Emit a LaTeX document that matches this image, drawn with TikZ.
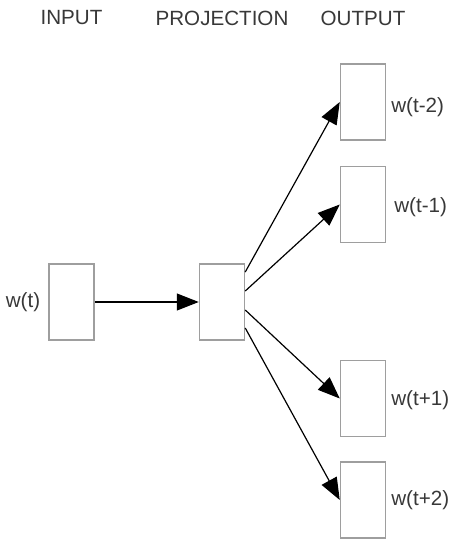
\documentclass[tikz,border=0pt]{standalone}
\usepackage{fontspec}
\setmainfont{Liberation Sans}
\usepackage{xcolor}
\usetikzlibrary{shapes,arrows.meta,positioning}

\begin{document}
\begin{tikzpicture}[x=0.5pt, y=-0.5pt, node distance=52pt, auto,
  every node/.style={font=\fontsize{10.3pt}{12pt}\selectfont, text=black!78, align=center},
  wordbox/.style={draw=black!38, line width=0.75pt, rectangle, minimum width=22.5pt, minimum height=38pt, inner sep=0pt},
  link/.style={-{Triangle[length=11pt, width=8.5pt]}, line width=0.6pt, black}]
\useasboundingbox (0,0) rectangle (474,552);
% Input
\node[wordbox] (input) at (71.5,302) {};
% Projection
\node[wordbox, right=52pt of input] (proj) {};
% Output
\node[wordbox] (outm2) at (363,102) {};
\node[wordbox] (outm1) at (363,204.5) {};
\node[wordbox] (outp1) at (363,398.5) {};
\node[wordbox] (outp2) at (363,500) {};
% Arrows
\draw[link] (input.east) -- (proj.west);
\draw[link] ([yshift=15pt]proj.east) -- (outm2.west);
\draw[link] ([yshift=5.5pt]proj.east) -- (outm1.west);
\draw[link] ([yshift=-4pt]proj.east) -- (outp1.west);
\draw[link] ([yshift=-13pt]proj.east) -- (outp2.west);
% Labels
\node[left=0.5pt of input] {w(t)};
\node[right=-1pt of outm2, yshift=-2.5pt] {w(t-2)};
\node[right=0.5pt of outm1, yshift=-1.5pt] {w(t-1)};
\node[right=-1pt of outp1, yshift=-1pt] {w(t+1)};
\node[right=-1pt of outp2] {w(t+2)};
% Titles
\node at (input |- 0,18) {INPUT};
\node at (proj |- 0,18) {PROJECTION};
\node at (outm2 |- 0,18) {OUTPUT};
\end{tikzpicture}
\end{document}
